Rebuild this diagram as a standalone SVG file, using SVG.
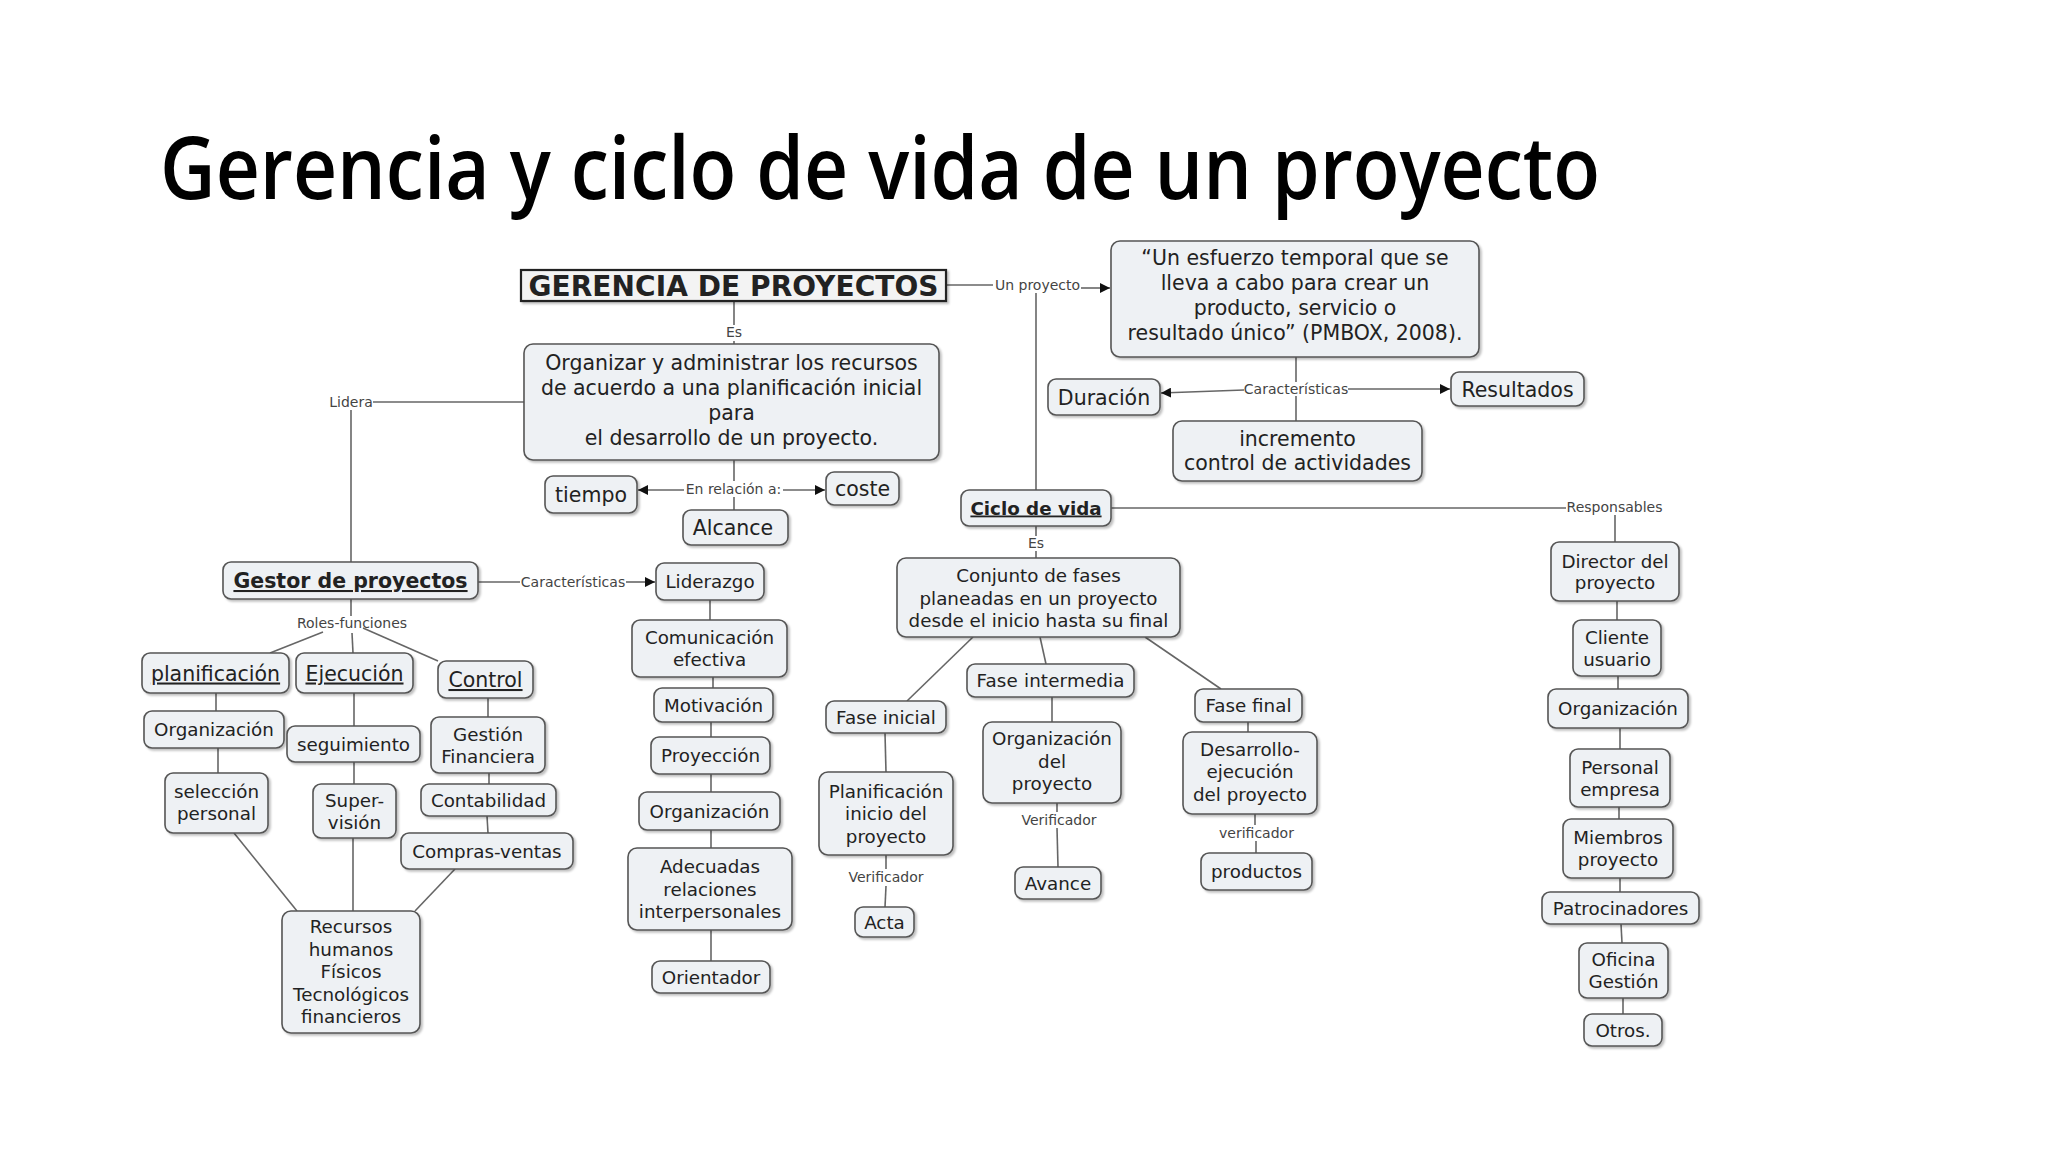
<svg xmlns="http://www.w3.org/2000/svg" width="2048" height="1152" viewBox="0 0 2048 1152">
<defs>
<style>
.bx{fill:#eef1f4;stroke:#555;stroke-width:1.6}
.t{font-family:"DejaVu Sans",Verdana,sans-serif;font-size:18.3px;fill:#222;text-anchor:middle}
.tl{font-family:"DejaVu Sans",Verdana,sans-serif;font-size:20.5px;fill:#222;text-anchor:middle}
.u{text-decoration:underline}
.b{font-weight:bold}
.lbl{font-family:"DejaVu Sans",Verdana,sans-serif;font-size:14px;fill:#444;text-anchor:middle}
.c line,.c polyline{stroke:#666;stroke-width:1.6;fill:none}
.title{font-family:"Open Sans","Noto Sans",sans-serif;font-size:87px;font-weight:600;fill:#000}
</style>
<marker id="ah" viewBox="0 0 10 10" refX="10" refY="5" markerWidth="10" markerHeight="10" markerUnits="userSpaceOnUse" orient="auto">
<path d="M0,0 L10,5 L0,10 z" fill="#111"/>
</marker>
<filter id="sh" x="-10%" y="-10%" width="130%" height="140%">
<feDropShadow dx="2" dy="2" stdDeviation="1.2" flood-color="#000" flood-opacity="0.25"/>
</filter>
</defs>
<rect width="2048" height="1152" fill="#fff"/>
<text class="title" x="160" y="199" textLength="1440" lengthAdjust="spacingAndGlyphs">Gerencia y ciclo de vida de un proyecto</text>

<g id="connectors" class="c">
<line x1="734" y1="301" x2="734" y2="325"/>
<line x1="734" y1="341" x2="734" y2="344"/>
<line x1="734" y1="460" x2="734" y2="481"/>
<line x1="734" y1="497" x2="734" y2="510"/>
<line x1="684" y1="490" x2="638" y2="490" marker-end="url(#ah)"/>
<line x1="783" y1="490" x2="825" y2="490" marker-end="url(#ah)"/>
<line x1="524" y1="402" x2="373" y2="402"/>
<line x1="351" y1="410" x2="351" y2="562"/>
<line x1="478" y1="582" x2="520" y2="582"/>
<line x1="626" y1="582" x2="655" y2="582" marker-end="url(#ah)"/>
<line x1="351" y1="599" x2="351" y2="616"/>
<line x1="323" y1="632" x2="270" y2="653"/>
<line x1="352" y1="633" x2="353" y2="653"/>
<line x1="363" y1="628" x2="438" y2="661"/>
<line x1="216" y1="693" x2="216" y2="711"/>
<line x1="218" y1="748" x2="218" y2="773"/>
<line x1="354" y1="693" x2="354" y2="726"/>
<line x1="354" y1="762" x2="354" y2="784"/>
<line x1="353" y1="838" x2="353" y2="911"/>
<line x1="234" y1="833" x2="297" y2="911"/>
<line x1="488" y1="698" x2="488" y2="717"/>
<line x1="489" y1="773" x2="489" y2="784"/>
<line x1="487" y1="816" x2="488" y2="833"/>
<line x1="455" y1="869" x2="415" y2="911"/>
<line x1="710" y1="600" x2="710" y2="620"/>
<line x1="713" y1="677" x2="713" y2="688"/>
<line x1="711" y1="722" x2="711" y2="737"/>
<line x1="711" y1="774" x2="711" y2="792"/>
<line x1="711" y1="830" x2="711" y2="848"/>
<line x1="711" y1="930" x2="711" y2="961"/>
<line x1="946" y1="285" x2="993" y2="285"/>
<polyline points="1081,288 1110,288" marker-end="url(#ah)"/>
<line x1="1036" y1="293" x2="1036" y2="490"/>
<line x1="1296" y1="357" x2="1296" y2="382"/>
<line x1="1296" y1="396" x2="1296" y2="421"/>
<line x1="1244" y1="390" x2="1161" y2="393" marker-end="url(#ah)"/>
<line x1="1348" y1="389" x2="1450" y2="389" marker-end="url(#ah)"/>
<line x1="1111" y1="508" x2="1566" y2="508"/>
<line x1="1615" y1="515" x2="1615" y2="542"/>
<line x1="1036" y1="526" x2="1036" y2="536"/>
<line x1="1036" y1="551" x2="1036" y2="558"/>
<line x1="973" y1="637" x2="907" y2="701"/>
<line x1="1040" y1="637" x2="1046" y2="664"/>
<line x1="1145" y1="637" x2="1221" y2="689"/>
<line x1="885" y1="733" x2="886" y2="772"/>
<line x1="886" y1="855" x2="886" y2="869"/>
<line x1="886" y1="886" x2="885" y2="907"/>
<line x1="1052" y1="697" x2="1052" y2="722"/>
<line x1="1057" y1="803" x2="1057" y2="812"/>
<line x1="1057" y1="828" x2="1058" y2="867"/>
<line x1="1248" y1="722" x2="1248" y2="732"/>
<line x1="1255" y1="814" x2="1255" y2="825"/>
<line x1="1256" y1="841" x2="1256" y2="853"/>
<line x1="1617" y1="601" x2="1617" y2="620"/>
<line x1="1618" y1="676" x2="1618" y2="689"/>
<line x1="1620" y1="728" x2="1620" y2="749"/>
<line x1="1619" y1="807" x2="1619" y2="819"/>
<line x1="1620" y1="878" x2="1620" y2="892"/>
<line x1="1621" y1="924" x2="1622" y2="943"/>
<line x1="1623" y1="998" x2="1623" y2="1014"/>
</g>

<g id="labels">
<text class="lbl" x="734" y="337">Es</text>
<text class="lbl" x="351" y="407">Lidera</text>
<text class="lbl" x="733.5" y="494">En relación a:</text>
<text class="lbl" x="1037.5" y="290">Un proyecto</text>
<text class="lbl" x="573" y="587">Características</text>
<text class="lbl" x="352" y="628">Roles-funciones</text>
<text class="lbl" x="1296" y="394">Características</text>
<text class="lbl" x="1036" y="548">Es</text>
<text class="lbl" x="1614.5" y="512">Responsables</text>
<text class="lbl" x="886" y="882">Verificador</text>
<text class="lbl" x="1059" y="825">Verificador</text>
<text class="lbl" x="1256.5" y="838">verificador</text>
</g>

<g id="n-gerencia"><rect x="521" y="270" width="425" height="31" fill="#f3f3f3" stroke="#222" stroke-width="2.2" filter="url(#sh)"/><text class="tl b" style="font-size:28px" x="733.5" y="296" textLength="410">GERENCIA DE PROYECTOS</text></g>
<g id="n-organizar"><rect class="bx" x="524" y="344" width="415" height="116" rx="9" filter="url(#sh)"/><text class="tl" x="731.5" y="370">Organizar y administrar los recursos<tspan x="731.5" y="395">de acuerdo a una planificación inicial</tspan><tspan x="731.5" y="420">para</tspan><tspan x="731.5" y="445">el desarrollo de un proyecto.</tspan></text></g>
<g id="n-tiempo"><rect class="bx" x="545" y="476" width="92" height="37" rx="8" filter="url(#sh)"/><text class="tl" x="591" y="502">tiempo</text></g>
<g id="n-coste"><rect class="bx" x="826" y="472" width="73" height="33" rx="8" filter="url(#sh)"/><text class="tl" x="862.5" y="496">coste</text></g>
<g id="n-alcance"><rect class="bx" x="683" y="510" width="105" height="35" rx="8" filter="url(#sh)"/><text class="tl" x="733" y="535">Alcance</text></g>
<g id="n-quote"><rect class="bx" x="1111" y="241" width="368" height="116" rx="9" filter="url(#sh)"/><text class="tl" x="1295" y="265">“Un esfuerzo temporal que se<tspan x="1295" y="290">lleva a cabo para crear un</tspan><tspan x="1295" y="315">producto, servicio o</tspan><tspan x="1295" y="340">resultado único” (PMBOX, 2008).</tspan></text></g>
<g id="n-duracion"><rect class="bx" x="1048" y="379" width="112" height="36" rx="8" filter="url(#sh)"/><text class="tl" x="1104" y="404.5">Duración</text></g>
<g id="n-resultados"><rect class="bx" x="1451" y="372" width="133" height="34" rx="8" filter="url(#sh)"/><text class="tl" x="1517.5" y="396.5">Resultados</text></g>
<g id="n-incremento"><rect class="bx" x="1173" y="421" width="249" height="60" rx="9" filter="url(#sh)"/><text class="tl" x="1297.5" y="446">incremento<tspan x="1297.5" y="470">control de actividades</tspan></text></g>
<g id="n-ciclo"><rect class="bx" x="961" y="490" width="150" height="36" rx="8" filter="url(#sh)"/><text class="t b u" x="1036" y="514.5">Ciclo de vida</text></g>

<g id="n-gestor"><rect class="bx" x="223" y="562" width="255" height="37" rx="8" filter="url(#sh)"/><text class="tl b u" x="350.5" y="588">Gestor de proyectos</text></g>
<g id="n-liderazgo"><rect class="bx" x="656" y="563" width="108" height="37" rx="8" filter="url(#sh)"/><text class="t" x="710" y="588">Liderazgo</text></g>
<g id="n-comunicacion"><rect class="bx" x="632" y="620" width="155" height="57" rx="8" filter="url(#sh)"/><text class="t" x="709.5" y="644">Comunicación<tspan x="709.5" y="666">efectiva</tspan></text></g>
<g id="n-motivacion"><rect class="bx" x="654" y="688" width="119" height="34" rx="8" filter="url(#sh)"/><text class="t" x="713.5" y="711.5">Motivación</text></g>
<g id="n-proyeccion"><rect class="bx" x="651" y="737" width="119" height="37" rx="8" filter="url(#sh)"/><text class="t" x="710.5" y="762">Proyección</text></g>
<g id="n-organizacion2"><rect class="bx" x="639" y="792" width="141" height="38" rx="8" filter="url(#sh)"/><text class="t" x="709.5" y="817.5">Organización</text></g>
<g id="n-adecuadas"><rect class="bx" x="628" y="848" width="164" height="82" rx="9" filter="url(#sh)"/><text class="t" x="710" y="873">Adecuadas<tspan x="710" y="895.5">relaciones</tspan><tspan x="710" y="918">interpersonales</tspan></text></g>
<g id="n-orientador"><rect class="bx" x="652" y="961" width="118" height="32" rx="8" filter="url(#sh)"/><text class="t" x="711" y="983.5">Orientador</text></g>

<g id="n-planificacion"><rect class="bx" x="142" y="653" width="147" height="40" rx="8" filter="url(#sh)"/><text class="tl u" x="215.5" y="680.5">planificación</text></g>
<g id="n-ejecucion"><rect class="bx" x="296" y="653" width="117" height="40" rx="8" filter="url(#sh)"/><text class="tl u" x="354.5" y="680.5">Ejecución</text></g>
<g id="n-control"><rect class="bx" x="438" y="661" width="95" height="37" rx="8" filter="url(#sh)"/><text class="tl u" x="485.5" y="687">Control</text></g>
<g id="n-organizacion1"><rect class="bx" x="144" y="711" width="140" height="37" rx="8" filter="url(#sh)"/><text class="t" x="214" y="736">Organización</text></g>
<g id="n-seleccion"><rect class="bx" x="165" y="773" width="103" height="60" rx="8" filter="url(#sh)"/><text class="t" x="216.5" y="798">selección<tspan x="216.5" y="820">personal</tspan></text></g>
<g id="n-seguimiento"><rect class="bx" x="287" y="726" width="133" height="36" rx="8" filter="url(#sh)"/><text class="t" x="353.5" y="750.5">seguimiento</text></g>
<g id="n-supervision"><rect class="bx" x="313" y="784" width="83" height="54" rx="8" filter="url(#sh)"/><text class="t" x="354.5" y="806.5">Super-<tspan x="354.5" y="828.5">visión</tspan></text></g>
<g id="n-gestionfin"><rect class="bx" x="431" y="717" width="114" height="56" rx="8" filter="url(#sh)"/><text class="t" x="488" y="740.5">Gestión<tspan x="488" y="762.5">Financiera</tspan></text></g>
<g id="n-contabilidad"><rect class="bx" x="421" y="784" width="135" height="32" rx="8" filter="url(#sh)"/><text class="t" x="488.5" y="806.5">Contabilidad</text></g>
<g id="n-compras"><rect class="bx" x="401" y="833" width="172" height="36" rx="8" filter="url(#sh)"/><text class="t" x="487" y="857.5">Compras-ventas</text></g>
<g id="n-recursos"><rect class="bx" x="282" y="911" width="138" height="122" rx="9" filter="url(#sh)"/><text class="t" x="351" y="933">Recursos<tspan x="351" y="955.5">humanos</tspan><tspan x="351" y="978">Físicos</tspan><tspan x="351" y="1000.5">Tecnológicos</tspan><tspan x="351" y="1023">financieros</tspan></text></g>

<g id="n-conjunto"><rect class="bx" x="897" y="558" width="283" height="79" rx="9" filter="url(#sh)"/><text class="t" x="1038.5" y="582">Conjunto de fases<tspan x="1038.5" y="604.5">planeadas en un proyecto</tspan><tspan x="1038.5" y="627">desde el inicio hasta su final</tspan></text></g>
<g id="n-faseinicial"><rect class="bx" x="826" y="701" width="120" height="32" rx="8" filter="url(#sh)"/><text class="t" x="886" y="723.5">Fase inicial</text></g>
<g id="n-planificacion2"><rect class="bx" x="819" y="772" width="134" height="83" rx="9" filter="url(#sh)"/><text class="t" x="886" y="797.5">Planificación<tspan x="886" y="820">inicio del</tspan><tspan x="886" y="842.5">proyecto</tspan></text></g>
<g id="n-acta"><rect class="bx" x="855" y="907" width="59" height="30" rx="8" filter="url(#sh)"/><text class="t" x="884.5" y="928.5">Acta</text></g>
<g id="n-faseintermedia"><rect class="bx" x="967" y="664" width="167" height="33" rx="8" filter="url(#sh)"/><text class="t" x="1050.5" y="687" textLength="148">Fase intermedia</text></g>
<g id="n-orgproyecto"><rect class="bx" x="983" y="722" width="138" height="81" rx="9" filter="url(#sh)"/><text class="t" x="1052" y="745">Organización<tspan x="1052" y="767.5">del</tspan><tspan x="1052" y="790">proyecto</tspan></text></g>
<g id="n-avance"><rect class="bx" x="1015" y="867" width="86" height="32" rx="8" filter="url(#sh)"/><text class="t" x="1058" y="889.5">Avance</text></g>
<g id="n-fasefinal"><rect class="bx" x="1195" y="689" width="107" height="33" rx="8" filter="url(#sh)"/><text class="t" x="1248.5" y="712">Fase final</text></g>
<g id="n-desarrollo"><rect class="bx" x="1183" y="732" width="134" height="82" rx="9" filter="url(#sh)"/><text class="t" x="1250" y="756">Desarrollo-<tspan x="1250" y="778">ejecución</tspan><tspan x="1250" y="800.5">del proyecto</tspan></text></g>
<g id="n-productos"><rect class="bx" x="1201" y="853" width="111" height="37" rx="8" filter="url(#sh)"/><text class="t" x="1256.5" y="878">productos</text></g>

<g id="n-director"><rect class="bx" x="1551" y="542" width="128" height="59" rx="8" filter="url(#sh)"/><text class="t" x="1615" y="567.5">Director del<tspan x="1615" y="589">proyecto</tspan></text></g>
<g id="n-cliente"><rect class="bx" x="1573" y="620" width="88" height="56" rx="8" filter="url(#sh)"/><text class="t" x="1617" y="643.5">Cliente<tspan x="1617" y="665.5">usuario</tspan></text></g>
<g id="n-organizacion3"><rect class="bx" x="1548" y="689" width="140" height="39" rx="8" filter="url(#sh)"/><text class="t" x="1618" y="715">Organización</text></g>
<g id="n-personal"><rect class="bx" x="1570" y="749" width="100" height="58" rx="8" filter="url(#sh)"/><text class="t" x="1620" y="773.5">Personal<tspan x="1620" y="795.5">empresa</tspan></text></g>
<g id="n-miembros"><rect class="bx" x="1563" y="819" width="110" height="59" rx="8" filter="url(#sh)"/><text class="t" x="1618" y="843.5">Miembros<tspan x="1618" y="865.5">proyecto</tspan></text></g>
<g id="n-patrocinadores"><rect class="bx" x="1542" y="892" width="157" height="32" rx="8" filter="url(#sh)"/><text class="t" x="1620.5" y="914.5">Patrocinadores</text></g>
<g id="n-oficina"><rect class="bx" x="1579" y="943" width="89" height="55" rx="8" filter="url(#sh)"/><text class="t" x="1623.5" y="966">Oficina<tspan x="1623.5" y="988">Gestión</tspan></text></g>
<g id="n-otros"><rect class="bx" x="1584" y="1014" width="78" height="32" rx="8" filter="url(#sh)"/><text class="t" x="1623" y="1036.5">Otros.</text></g>
</svg>
